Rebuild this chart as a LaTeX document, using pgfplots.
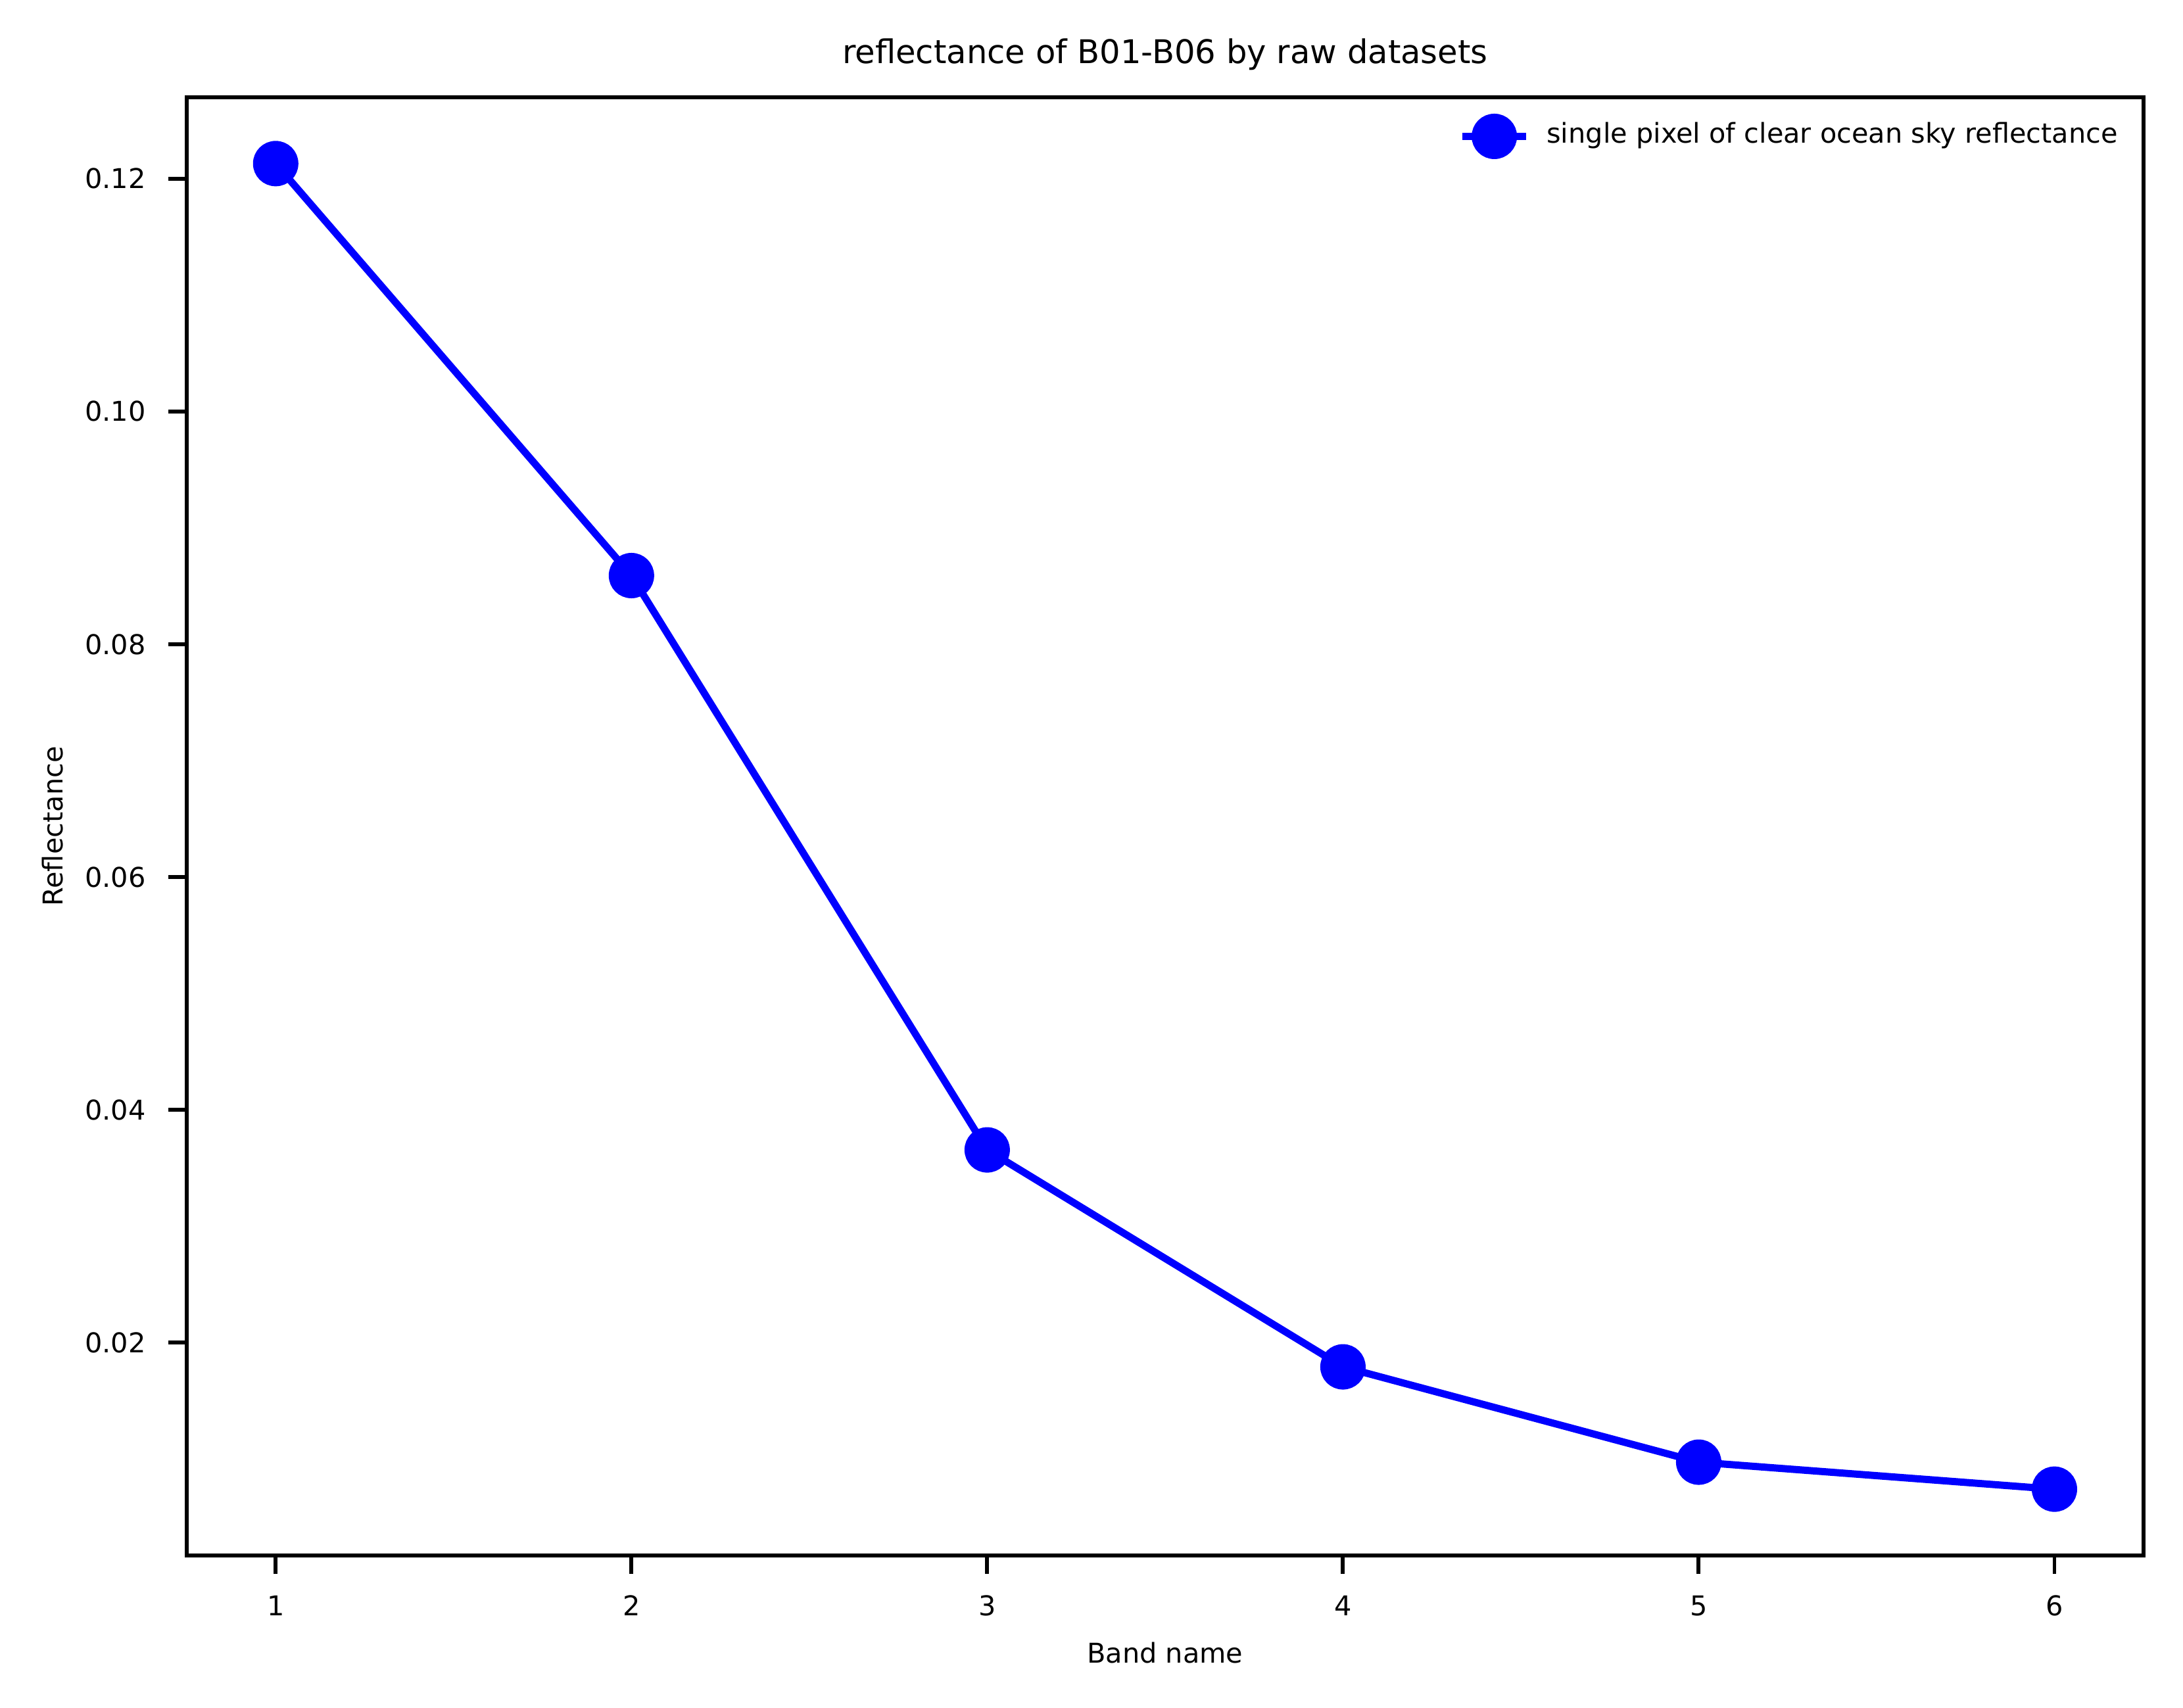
\documentclass[border=0pt]{standalone}
\usepackage{fontspec}
\setmainfont{DejaVu Sans}
\usepackage{pgfplots}
\pgfplotsset{compat=1.18}
\newcommand{\basefont}{\fontsize{5.97}{7.1}\selectfont}
\newcommand{\titlefont}{\fontsize{7.15}{8.5}\selectfont}
\begin{document}
\begin{tikzpicture}
\path[use as bounding box] (0,0) rectangle (478.08pt,373.97pt);
\begin{axis}[
  at={(40.9pt,33.26pt)}, anchor=south west,
  scale only axis, width=428.5pt, height=319.4pt,
  xmin=0.75, xmax=6.25, ymin=0.0017, ymax=0.127,
  xtick={1,2,3,4,5,6},
  ytick={0.02,0.04,0.06,0.08,0.10,0.12},
  /pgf/number format/assume math mode=true,
  yticklabel style={/pgf/number format/fixed, /pgf/number format/fixed zerofill, /pgf/number format/precision=2},
  scaled y ticks=false,
  tick pos=left, tick align=outside,
  major tick length=4pt,
  every tick/.style={black, line width=0.86pt},
  axis line style={line width=0.86pt},
  ticklabel style={font=\basefont},
  yticklabel style={inner sep=0pt, anchor=east, xshift=-4.8pt},
  xticklabel style={inner sep=0pt, anchor=north, yshift=-4.6pt},
  title={reflectance of B01-B06 by raw datasets},
  title style={font=\titlefont, at={(axis description cs:0.5,1.02298)}, anchor=base, inner sep=0pt, yshift=-6pt},
  xlabel={Band name},
  xlabel style={font=\basefont, at={(axis description cs:0.5,-0.07357)}, anchor=base, inner sep=0pt},
  ylabel={Reflectance},
  ylabel style={font=\basefont, at={(axis description cs:-0.06324,0.5)}, anchor=base, inner sep=0pt},
  legend style={at={(axis description cs:1,1)}, anchor=north east, xshift=-5.6pt, yshift=-3.6pt,
    draw=none, fill=none, inner sep=0pt, outer sep=0pt,
    nodes={inner sep=0pt, font=\basefont}, column sep=3.7pt},
  legend cell align=left,
  legend image code/.code={
    \draw[blue, line width=1.58pt] (0pt,0pt) -- (13.97pt,0pt);
    \fill[blue] (6.98pt,0pt) circle (4.18pt);
  },
]
\addplot[blue, line width=1.58pt, mark=*, mark size=4.18pt, mark options={draw=none, fill=blue}]
  coordinates {(1,0.1213) (2,0.0859) (3,0.03655) (4,0.01791) (5,0.00972) (6,0.00740)};
\addlegendentry{single pixel of clear ocean sky reflectance}
\end{axis}
\end{tikzpicture}
\end{document}
